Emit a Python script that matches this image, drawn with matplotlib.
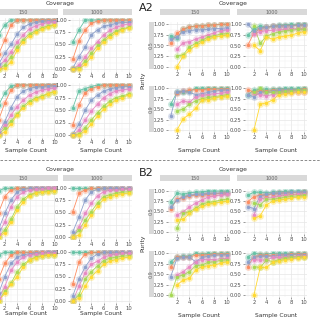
import numpy as np
import matplotlib
matplotlib.use("Agg")
import matplotlib.pyplot as plt
from matplotlib.lines import Line2D
from matplotlib.ticker import MultipleLocator, FormatStrFormatter

# x values shared by every panel
sample_count = [1, 2, 3, 4, 5, 6, 7, 8, 9, 10]
coverage_labels = ["150", "1000"]
purity_labels = ["0.5", "0.9"]

# one row per series: teal, orange, blue, pink, green, yellow  (None = no point)
a1_cov150_pur05 = [
    [0.70, 0.90, 1.00, 1.00, 1.00, 1.00, 1.00, 1.00, 1.00, 1.00],
    [0.30, 0.60, 0.90, 1.00, 1.00, 1.00, 1.00, 1.00, 1.00, 1.00],
    [0.10, 0.32, 0.50, 0.72, 0.85, 0.92, 0.95, 0.97, 0.98, 0.98],
    [0.05, 0.18, 0.35, 0.55, 0.70, 0.82, 0.88, 0.92, 0.95, 0.96],
    [0.00, 0.08, 0.25, 0.45, 0.60, 0.72, 0.78, 0.84, 0.88, 0.90],
    [0.00, 0.02, 0.15, 0.38, 0.56, 0.68, 0.75, 0.81, 0.86, 0.90],
]
a1_cov1000_pur05 = [
    [0.55, 0.80, 1.00, 1.00, 1.00, 1.00, 1.00, 1.00, 1.00, 1.00],
    [0.20, 0.58, 0.80, 0.93, 0.98, 1.00, 1.00, 1.00, 1.00, 1.00],
    [0.02, 0.25, 0.45, 0.70, 0.80, 0.87, 0.90, 0.93, 0.95, 0.95],
    [0.00, 0.08, 0.25, 0.42, 0.56, 0.70, 0.79, 0.85, 0.89, 0.92],
    [0.00, 0.03, 0.16, 0.32, 0.48, 0.60, 0.70, 0.77, 0.82, 0.85],
    [0.00, 0.00, 0.10, 0.25, 0.42, 0.56, 0.66, 0.74, 0.80, 0.84],
]
a1_cov150_pur09 = [
    [0.60, 0.84, 0.98, 1.00, 1.00, 1.00, 1.00, 1.00, 1.00, 1.00],
    [0.30, 0.64, 0.90, 1.00, 1.00, 1.00, 1.00, 1.00, 1.00, 1.00],
    [0.05, 0.27, 0.55, 0.77, 0.88, 0.93, 0.96, 0.97, 0.98, 0.98],
    [0.02, 0.20, 0.40, 0.57, 0.70, 0.80, 0.86, 0.90, 0.92, 0.94],
    [0.00, 0.14, 0.28, 0.42, 0.58, 0.68, 0.74, 0.78, 0.83, 0.87],
    [0.00, 0.06, 0.22, 0.40, 0.55, 0.64, 0.72, 0.77, 0.83, 0.87],
]
a1_cov1000_pur09 = [
    [0.54, 0.89, 0.93, 0.97, 1.00, 1.00, 1.00, 1.00, 1.00, 1.00],
    [0.20, 0.60, 0.85, 0.93, 0.97, 1.00, 1.00, 1.00, 1.00, 1.00],
    [0.02, 0.22, 0.50, 0.70, 0.80, 0.88, 0.92, 0.95, 0.97, 0.97],
    [0.00, 0.10, 0.30, 0.48, 0.62, 0.75, 0.83, 0.88, 0.90, 0.92],
    [0.00, 0.02, 0.15, 0.30, 0.45, 0.58, 0.68, 0.75, 0.78, 0.82],
    [0.00, 0.00, 0.08, 0.22, 0.38, 0.52, 0.62, 0.70, 0.75, 0.80],
]

a2_cov150_pur05 = [
    [0.73, 0.67, 0.88, 0.94, 0.96, 0.97, 0.98, 0.99, 1.00, 1.00],
    [0.55, 0.79, 0.88, 0.94, 0.96, 0.97, 0.98, 0.99, 1.00, 1.00],
    [0.66, 0.70, 0.83, 0.85, 0.87, 0.87, 0.88, 0.90, 0.90, 0.92],
    [None, 0.41, 0.57, 0.59, 0.65, 0.70, 0.75, 0.80, 0.85, 0.87],
    [None, 0.25, 0.28, 0.47, 0.55, 0.62, 0.70, 0.73, 0.77, 0.78],
    [None, 0.00, 0.25, 0.39, 0.50, 0.58, 0.65, 0.70, 0.72, 0.75],
]
a2_cov1000_pur05 = [
    [0.75, 0.88, 0.97, 0.93, 0.97, 0.98, 0.99, 1.00, 1.00, 1.00],
    [0.50, 0.80, 0.90, 0.93, 0.95, 0.96, 0.97, 0.97, 0.98, 0.98],
    [1.00, 0.85, 0.92, 0.93, 0.95, 0.96, 0.97, 0.97, 0.98, 0.98],
    [None, 0.78, 0.83, 0.85, 0.86, 0.87, 0.88, 0.89, 0.90, 0.90],
    [None, 0.95, 0.55, 0.72, 0.78, 0.82, 0.85, 0.86, 0.88, 0.88],
    [None, 0.50, 0.38, 0.70, 0.65, 0.70, 0.72, 0.75, 0.79, 0.83],
]
a2_cov150_pur09 = [
    [0.62, 0.90, 0.92, 0.93, 1.00, 1.00, 1.00, 1.00, 1.00, 1.00],
    [None, 0.88, 0.93, 0.95, 0.97, 0.97, 0.98, 0.98, 0.98, 0.98],
    [0.33, 0.92, 0.93, 0.90, 0.85, 0.87, 0.90, 0.93, 0.95, 0.96],
    [None, 0.62, 0.70, 0.66, 0.80, 0.83, 0.85, 0.87, 0.88, 0.90],
    [None, 0.46, 0.50, 0.62, 0.70, 0.75, 0.78, 0.80, 0.82, 0.85],
    [None, 0.00, 0.27, 0.38, 0.52, 0.72, 0.73, 0.76, 0.80, 0.82],
]
a2_cov1000_pur09 = [
    [0.85, 0.95, 0.98, 0.98, 0.98, 0.99, 1.00, 1.00, 1.00, 1.00],
    [0.97, 0.90, 0.93, 0.93, 0.95, 0.96, 0.97, 0.97, 0.97, 0.98],
    [0.84, 0.80, 0.90, 0.92, 0.94, 0.95, 0.96, 0.97, 0.97, 0.97],
    [None, 0.88, 0.85, 0.82, 0.85, 0.88, 0.90, 0.90, 0.92, 0.92],
    [None, 0.90, 1.00, 0.90, 0.90, 0.92, 0.93, 0.94, 0.95, 0.95],
    [None, 0.00, 0.62, 0.65, 0.72, 0.85, 0.87, 0.88, 0.90, 0.90],
]

b1_cov150_pur05 = [
    [0.95, 1.00, 1.00, 1.00, 1.00, 1.00, 1.00, 1.00, 1.00, 1.00],
    [0.50, 0.83, 0.97, 1.00, 1.00, 1.00, 1.00, 1.00, 1.00, 1.00],
    [0.15, 0.48, 0.76, 0.93, 0.98, 1.00, 1.00, 1.00, 1.00, 1.00],
    [0.05, 0.31, 0.62, 0.83, 0.92, 0.96, 0.98, 0.99, 1.00, 1.00],
    [0.00, 0.14, 0.36, 0.62, 0.78, 0.87, 0.91, 0.93, 0.94, 0.95],
    [0.00, 0.08, 0.30, 0.55, 0.72, 0.85, 0.90, 0.92, 0.93, 0.95],
]
b1_cov1000_pur05 = [
    [1.00, 1.00, 1.00, 1.00, 1.00, 1.00, 1.00, 1.00, 1.00, 1.00],
    [0.52, 0.90, 0.97, 1.00, 1.00, 1.00, 1.00, 1.00, 1.00, 1.00],
    [0.10, 0.41, 0.76, 0.93, 0.98, 1.00, 1.00, 1.00, 1.00, 1.00],
    [0.00, 0.20, 0.48, 0.69, 0.85, 0.93, 0.96, 0.97, 0.98, 0.98],
    [0.00, 0.14, 0.34, 0.52, 0.70, 0.83, 0.87, 0.90, 0.92, 0.93],
    [0.00, 0.03, 0.24, 0.45, 0.63, 0.78, 0.83, 0.87, 0.89, 0.90],
]
b1_cov150_pur09 = [
    [0.95, 1.00, 1.00, 1.00, 1.00, 1.00, 1.00, 1.00, 1.00, 1.00],
    [0.45, 0.77, 0.94, 1.00, 1.00, 1.00, 1.00, 1.00, 1.00, 1.00],
    [0.15, 0.50, 0.77, 0.90, 0.95, 0.97, 0.98, 0.99, 1.00, 1.00],
    [0.05, 0.29, 0.63, 0.80, 0.90, 0.95, 0.97, 0.98, 0.99, 0.99],
    [0.00, 0.19, 0.36, 0.60, 0.75, 0.85, 0.90, 0.93, 0.94, 0.95],
    [0.00, 0.15, 0.34, 0.50, 0.70, 0.84, 0.89, 0.92, 0.94, 0.95],
]
b1_cov1000_pur09 = [
    [1.00, 1.00, 1.00, 1.00, 1.00, 1.00, 1.00, 1.00, 1.00, 1.00],
    [0.35, 0.80, 0.97, 1.00, 1.00, 1.00, 1.00, 1.00, 1.00, 1.00],
    [0.10, 0.45, 0.70, 0.88, 0.97, 1.00, 1.00, 1.00, 1.00, 1.00],
    [0.00, 0.30, 0.58, 0.75, 0.82, 0.90, 0.94, 0.96, 0.98, 0.98],
    [0.00, 0.12, 0.45, 0.60, 0.72, 0.83, 0.88, 0.90, 0.92, 0.93],
    [0.00, 0.05, 0.30, 0.50, 0.62, 0.75, 0.82, 0.85, 0.88, 0.90],
]

b2_cov150_pur05 = [
    [0.74, 0.94, 0.92, 0.96, 0.97, 0.98, 1.00, 1.00, 1.00, 1.00],
    [0.55, 0.80, 0.84, 0.88, 0.90, 0.90, 0.92, 0.93, 0.94, 0.95],
    [0.61, 0.78, 0.86, 0.90, 0.92, 0.93, 0.94, 0.95, 0.95, 0.96],
    [None, 0.41, 0.49, 0.61, 0.70, 0.78, 0.85, 0.88, 0.90, 0.92],
    [None, 0.08, 0.45, 0.49, 0.58, 0.68, 0.72, 0.74, 0.78, 0.80],
    [None, 0.29, 0.30, 0.45, 0.55, 0.62, 0.68, 0.70, 0.73, 0.75],
]
b2_cov1000_pur05 = [
    [0.90, 0.97, 0.97, 0.96, 0.97, 0.98, 0.99, 1.00, 1.00, 1.00],
    [0.74, 0.86, 0.90, 0.90, 0.93, 0.94, 0.95, 0.96, 0.96, 0.97],
    [0.61, 0.57, 0.88, 0.92, 0.94, 0.95, 0.96, 0.97, 0.97, 0.98],
    [None, 0.41, 0.80, 0.84, 0.85, 0.88, 0.90, 0.91, 0.92, 0.93],
    [None, 0.70, 0.66, 0.80, 0.80, 0.82, 0.85, 0.87, 0.88, 0.90],
    [None, 0.33, 0.39, 0.66, 0.75, 0.78, 0.80, 0.83, 0.85, 0.86],
]
b2_cov150_pur09 = [
    [0.80, 0.92, 0.93, 0.93, 1.00, 0.98, 1.00, 1.00, 1.00, 1.00],
    [0.68, 0.90, 0.92, 0.92, 0.95, 0.96, 0.97, 0.98, 0.98, 0.98],
    [0.44, 0.88, 0.90, 0.90, 0.80, 0.90, 0.93, 0.95, 0.96, 0.97],
    [None, 0.48, 0.56, 0.68, 0.80, 0.85, 0.85, 0.85, 0.87, 0.88],
    [0.00, 0.44, 0.48, 0.56, 0.70, 0.72, 0.78, 0.80, 0.83, 0.85],
    [None, 0.24, 0.36, 0.40, 0.60, 0.68, 0.70, 0.72, 0.76, 0.80],
]
b2_cov1000_pur09 = [
    [0.92, 1.00, 0.98, 0.98, 1.00, 1.00, 1.00, 1.00, 1.00, 1.00],
    [0.68, 0.92, 0.95, 0.95, 0.95, 0.96, 0.97, 0.98, 0.98, 0.98],
    [0.80, 0.90, 0.93, 0.93, 0.93, 0.95, 0.96, 0.97, 0.97, 0.97],
    [None, 0.84, 0.84, 0.84, 0.90, 0.90, 0.91, 0.92, 0.93, 0.94],
    [None, 0.68, 0.66, 0.84, 0.80, 0.85, 0.88, 0.90, 0.91, 0.92],
    [None, 0.00, 0.66, 0.66, 0.78, 0.82, 0.85, 0.87, 0.88, 0.90],
]

series_colors = ["#66C2A5", "#FC8D62", "#8DA0CB", "#E78AC3", "#A6D854", "#FFD92F"]

W, H = 320, 320
fig = plt.figure(figsize=(3.2, 3.2), dpi=100)
fig.patch.set_facecolor("white")


def px_axes(x0, y0, x1, y1):
    return fig.add_axes([x0 / W, 1 - y1 / H, (x1 - x0) / W, (y1 - y0) / H])


def px_text(x, y, s, **kw):
    fig.text(x / W, 1 - y / H, s, ha="center", va="center", **kw)


def strip(x0, y0, x1, y1, label, rotation=0):
    ax = px_axes(x0, y0, x1, y1)
    ax.set_facecolor("#D9D9D9")
    ax.set_xticks([]); ax.set_yticks([])
    for s in ax.spines.values():
        s.set_visible(False)
    ax.text(0.5, 0.5, label, transform=ax.transAxes, ha="center", va="center",
            fontsize=3.5, color="#666666", rotation=rotation)


def panel(x0, y0, x1, y1, data, ylabels=True):
    ax = px_axes(x0, y0, x1, y1)
    ax.set_xlim(0.5, 10.5)
    ax.set_ylim(-0.05, 1.05)
    ax.xaxis.set_major_locator(MultipleLocator(2))
    ax.xaxis.set_minor_locator(MultipleLocator(1))
    ax.yaxis.set_major_locator(MultipleLocator(0.25))
    ax.yaxis.set_minor_locator(MultipleLocator(0.125))
    ax.yaxis.set_major_formatter(FormatStrFormatter("%.2f"))
    ax.grid(which="major", color="#E6E6E6", lw=0.5)
    ax.grid(which="minor", color="#F0F0F0", lw=0.3)
    ax.set_axisbelow(True)
    for s in ax.spines.values():
        s.set_visible(False)
    ax.tick_params(which="major", labelsize=3.8, colors="#4D4D4D", length=1.3,
                   width=0.4, pad=0.8)
    ax.tick_params(which="minor", length=0)
    if not ylabels:
        # this column's y axis lies outside the cropped picture
        ax.tick_params(axis="y", labelleft=False, length=0)
    x = np.array(sample_count)
    for vals, c in zip(data, series_colors):
        v = np.array([np.nan if a is None else a for a in vals], dtype=float)
        ax.plot(x, v, color=c, lw=0.6, zorder=2)
        ax.scatter(x, v, s=24, color=c, alpha=0.35, lw=0, zorder=3)
        ax.scatter(x, v, s=6, color=c, lw=0, zorder=4)
    return ax


def group(cols_x, rows_y, strip_y, datasets, title_y, xlabel_y, strip_pad, cropped):
    cx = (cols_x[0][0] + cols_x[1][1]) / 2
    px_text(cx - 4, title_y, "Coverage", fontsize=4.3, color="#333333")
    for j, (x0, x1) in enumerate(cols_x):
        strip(x0 - strip_pad, strip_y[0], x1, strip_y[1], coverage_labels[j])
        px_text((x0 + x1) / 2, xlabel_y, "Sample Count", fontsize=4.3, color="#333333")
        for i, (y0, y1) in enumerate(rows_y):
            panel(x0, y0, x1, y1, datasets[i][j], ylabels=not (cropped and j == 0))
    if not cropped:
        for i, (y0, y1) in enumerate(rows_y):
            strip(149, y0, 154, y1, purity_labels[i], rotation=90)


# top half
group([(-4.5, 57.5), (69.7, 131.7)], [(17.5, 71.5), (82.5, 137.5)], (9, 15),
      [[a1_cov150_pur05, a1_cov1000_pur05], [a1_cov150_pur09, a1_cov1000_pur09]],
      3.5, 150.5, 7, True)
group([(167.6, 230), (244.6, 307)], [(22.2, 68.8), (86.2, 132.1)], (9, 15),
      [[a2_cov150_pur05, a2_cov1000_pur05], [a2_cov150_pur09, a2_cov1000_pur09]],
      3.5, 150.5, 8, False)
px_text(146, 8, "A2", fontsize=8, color="#222222")
px_text(143, 80, "Purity", fontsize=4.3, color="#333333", rotation=90)

# separator
fig.add_artist(Line2D([0, 1], [1 - 160 / H] * 2, color="#777777", lw=0.6,
                      ls=(0, (3, 2)), transform=fig.transFigure))

# bottom half
group([(-4.5, 57.5), (69.7, 131.7)], [(185.9, 239.1), (249.9, 303.1)], (175, 181),
      [[b1_cov150_pur05, b1_cov1000_pur05], [b1_cov150_pur09, b1_cov1000_pur09]],
      169, 314, 7, True)
group([(167.6, 230), (244.6, 307)], [(189, 233.7), (251.2, 297.1)], (175, 181),
      [[b2_cov150_pur05, b2_cov1000_pur05], [b2_cov150_pur09, b2_cov1000_pur09]],
      169, 315.5, 8, False)
px_text(146, 173, "B2", fontsize=8, color="#222222")
px_text(143, 243, "Purity", fontsize=4.3, color="#333333", rotation=90)

fig.savefig("out.png", dpi=100)
